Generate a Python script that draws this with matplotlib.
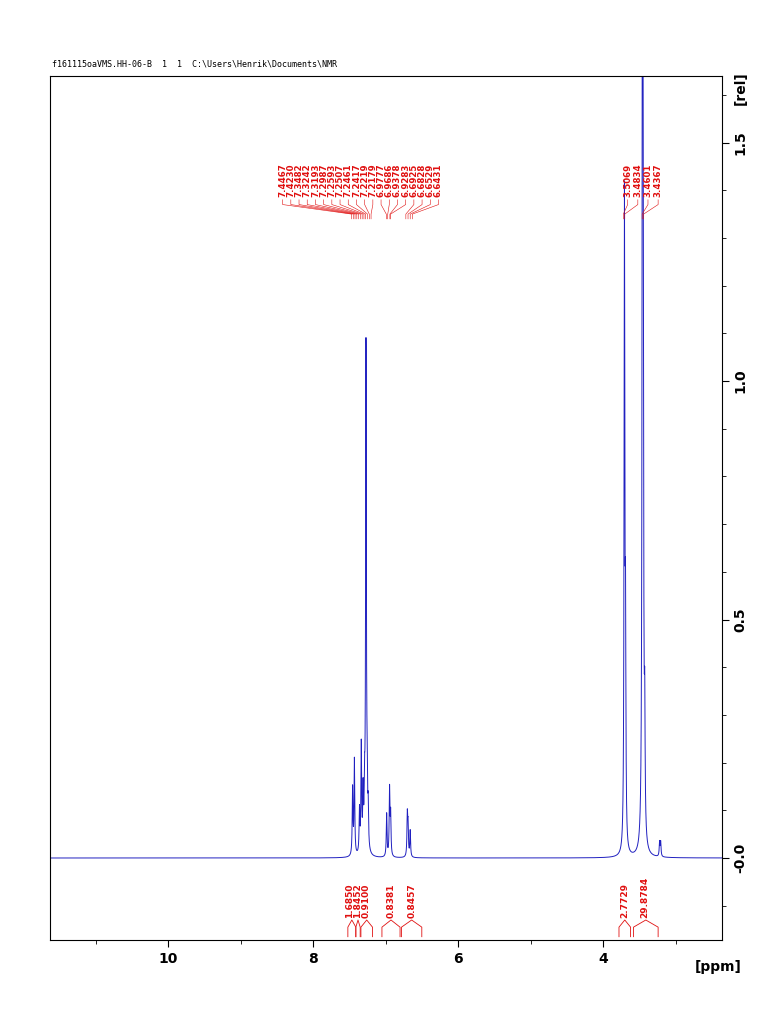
import numpy as np
import matplotlib
matplotlib.use("Agg")
from matplotlib import pyplot as plt

# peaks as seen in the spectrum (ppm, height)
peak_ppm = [7.455, 7.43, 7.36, 7.335, 7.31, 7.29, 7.27, 7.255, 7.24,
            6.985, 6.945, 6.93, 6.70, 6.69, 6.66,
            3.705, 3.69, 3.455, 3.445, 3.425, 3.22, 3.205]
peak_h = [0.14, 0.20, 0.09, 0.225, 0.12, 0.11, 1.06, 0.10, 0.08,
          0.09, 0.14, 0.085, 0.085, 0.06, 0.055,
          1.36, 0.43, 2.6, 0.78, 0.23, 0.03, 0.03]

shift_labels = ["7.4467", "7.4230", "7.3482", "7.3242", "7.3193", "7.2987", "7.2593",
                "7.2507", "7.2461", "7.2417", "7.2219", "7.2179", "6.9777", "6.9686",
                "6.9378", "6.9283", "6.6925", "6.6828", "6.6529", "6.6431"]
shift_labels2 = ["3.5069", "3.4834", "3.4601", "3.4367"]

integ_labels = ["1.6850", "1.8452", "0.9100", "0.8381", "0.8457", "2.7729", "29.8784"]
integ_ranges = [(7.52, 7.41), (7.41, 7.35), (7.34, 7.18), (7.05, 6.80), (6.78, 6.50),
                (3.78, 3.62), (3.58, 3.24)]
integ_text_x = [7.50, 7.385, 7.265, 6.93, 6.64, 3.70, 3.42]

fig = plt.figure(figsize=(7.68, 10.24), dpi=100)
ax = fig.add_axes([0.065, 0.082, 0.875, 0.844])

x = np.linspace(11.63, 2.36, 20000)
y = np.zeros_like(x)
w = 0.006
for p, h in zip(peak_ppm, peak_h):
    y += h * w**2 / ((x - p)**2 + w**2)
ax.plot(x, y, color="#2020c0", lw=0.7)

ax.set_xlim(11.63, 2.36)
ax.set_ylim(-0.172, 1.64)
ax.yaxis.tick_right()
ax.set_yticks([0.0, 0.5, 1.0, 1.5])
ax.set_yticks(np.arange(-0.1, 1.65, 0.1), minor=True)
ax.set_yticklabels(["-0.0", "0.5", "1.0", "1.5"], rotation=90, va="center",
                   fontweight="bold", fontsize=10)
ax.set_xticks([10, 8, 6, 4])
ax.set_xticks(np.arange(3, 12, 1), minor=True)
ax.set_xticklabels(["10", "8", "6", "4"], fontweight="bold", fontsize=10)
ax.tick_params(direction="out", length=5)
ax.tick_params(which="minor", length=3)
fig.text(0.965, 0.90, "[rel]", rotation=90, fontweight="bold", fontsize=10, ha="center")
fig.text(0.905, 0.052, "[ppm]", fontweight="bold", fontsize=10)
fig.text(0.068, 0.935, r"f161115oaVMS.HH-06-B  1  1  C:\Users\Henrik\Documents\NMR",
         family="DejaVu Sans Mono", fontsize=6)

red = "#e01010"
# peak picking labels
def pick(labels, ppms, x0, x1):
    xs = np.linspace(x0, x1, len(labels))
    for lab, xl, pp in zip(labels, xs, ppms):
        ax.text(xl, 1.385, lab, rotation=90, color=red, fontsize=6.2, fontweight="bold",
                ha="center", va="bottom")
        ax.plot([xl, xl, pp, pp], [1.38, 1.37, 1.35, 1.34], color=red, lw=0.4)

pick(shift_labels, np.linspace(7.47, 7.20, 12).tolist() + [6.99, 6.97, 6.94, 6.93]
     + [6.72, 6.69, 6.66, 6.63], 8.42, 6.27)
pick(shift_labels2, [3.72, 3.70, 3.46, 3.44], 3.66, 3.24)

# integrals
for lab, (a, b), tx in zip(integ_labels, integ_ranges, integ_text_x):
    m = (a + b) / 2
    ax.plot([a, a, m, b, b], [-0.165, -0.145, -0.13, -0.145, -0.165], color=red, lw=0.6)
    ax.text(tx, -0.125, lab, rotation=90, color=red, fontsize=6.5, fontweight="bold",
            ha="center", va="bottom")

fig.savefig("out.png", dpi=100)
